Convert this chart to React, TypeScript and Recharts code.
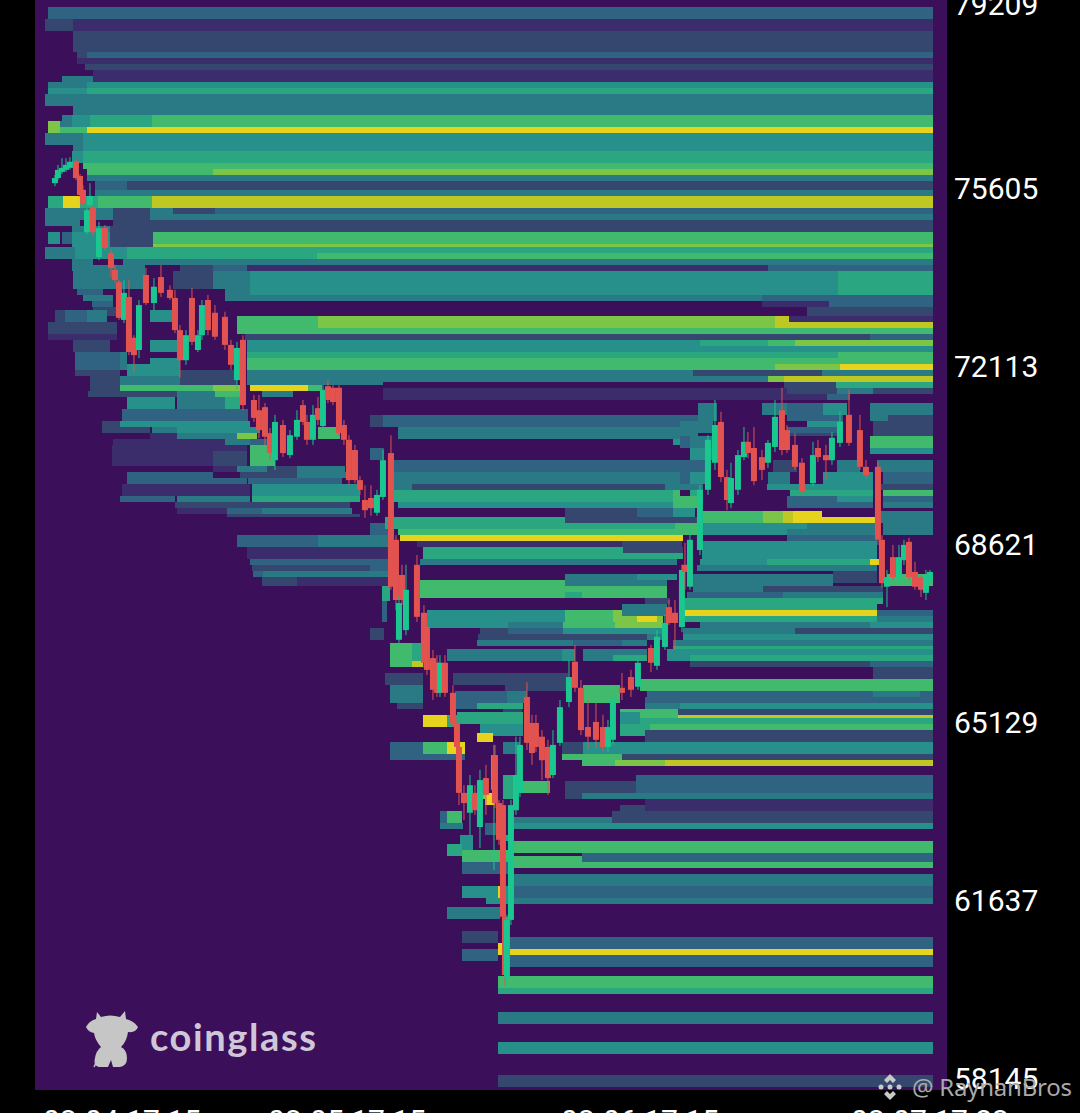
import { Bar, ComposedChart, ReferenceArea, XAxis, YAxis } from "recharts";

// time axis is in 5 minute steps, price rows are the heatmap buckets
const priceTicks = [79209, 75605, 72113, 68621, 65129, 61637, 58145];
const timeTicks = [87, 312, 605, 895];
const timeLabels = ["03-04 17:15", "03-05 17:15", "03-06 17:15", "03-07 17:23"];
const priceDomain = [57926, 79290];
const timeDomain = [0, 912];
const topBucketPrice = 79153;
const bucketSize = 58.8;

const levelColors = ["#3c0f5b", "#3b2c6c", "#36476f", "#306382", "#2a7a85", "#28908a", "#2aa680", "#41ba6e", "#7cc546", "#bfc822", "#e6d31d"];

// firstBucket, lastBucket, timeFrom, timeTo, level
const upperBands = [
  [0,4,13,898,3],[4,8,10,38,2],[4,8,38,898,1],[8,15,38,898,2],[15,17,42,52,2],[15,17,52,898,3],[17,19,42,898,1],[19,21,50,898,2],[21,25,58,898,1],[23,25,27,58,4],
  [25,27,13,52,4],[25,27,52,898,5],[27,29,13,52,5],[27,29,52,898,6],[29,33,10,898,4],[33,36,38,898,4],[36,38,27,37,4],[36,40,37,55,5],[36,40,55,117,6],[36,40,117,898,7],
  [38,40,13,25,8],[38,40,25,37,4],[40,42,13,25,8],[40,42,25,52,7],[40,42,52,898,10],[42,46,10,48,4],[42,46,48,898,5],[46,48,38,48,4],[46,48,48,898,5],[48,52,37,48,5],[48,52,48,898,6],
  [52,54,48,898,7],[54,56,52,178,7],[54,56,178,898,8],[56,58,52,898,4],[58,61,60,92,3],[58,61,92,898,2],[61,63,60,898,4],
  [63,67,13,28,6],[63,67,28,45,10],[63,67,45,63,6],[63,67,63,117,7],[63,67,117,898,9],
  [67,69,10,78,4],[67,69,78,115,2],[67,69,115,138,4],[67,69,138,180,2],[67,69,180,898,3],[69,71,10,78,4],[69,71,78,115,2],[69,71,115,898,4],[71,73,10,45,4],[71,73,78,898,2],[73,75,37,75,4],[73,75,75,898,2],
  [75,79,13,25,5],[75,79,27,37,3],[75,79,37,75,5],[75,79,75,118,2],[75,79,118,898,7],[79,80,37,75,5],[79,80,75,118,2],[79,80,118,898,8],
  [80,84,10,40,4],[80,84,40,92,5],[80,84,92,898,6],[82,84,282,898,7],[84,86,37,58,4],[84,86,88,898,4],
  [86,88,37,110,4],[86,88,145,178,2],[86,88,178,212,3],[86,88,212,733,1],[86,88,733,898,3],[88,94,38,110,4],[88,94,138,178,2],[88,94,178,215,4],[88,96,215,803,5],[88,96,803,898,6],
  [94,96,42,68,3],[94,96,190,215,4],[96,98,48,78,4],[96,98,190,727,4],[96,98,727,898,3],[98,100,57,78,3],[98,100,727,794,1],[98,100,794,898,3],[100,103,58,82,2],[100,103,772,898,2],
  [101,105,20,30,2],[101,105,30,52,3],[101,105,52,72,4],[101,105,115,142,5],[103,107,202,283,7],[103,107,283,740,8],[103,107,740,754,9],[103,105,754,898,1],[105,107,754,898,9],
  [105,109,13,82,2],[107,109,202,898,7],[109,111,13,82,1],[109,111,210,835,2],[109,111,835,898,3],[111,113,38,75,2],[111,115,115,142,5],[111,113,212,665,5],[111,113,665,733,6],[111,113,733,760,7],[111,113,760,898,8],
  [113,115,38,75,2],[113,115,212,898,5],[115,121,40,85,3],[115,121,85,92,4],[115,117,212,803,6],[115,117,803,898,7],[117,119,115,145,5],[117,119,212,898,7],
  [119,121,92,145,5],[119,121,212,740,7],[119,121,740,805,8],[119,121,805,898,10],
  [121,123,40,85,2],[121,123,92,145,5],[121,123,145,202,2],[121,123,212,658,4],[121,123,658,787,2],[121,123,787,898,4],
  [123,125,55,85,2],[123,125,85,145,4],[123,125,145,202,2],[123,125,212,733,4],[123,125,733,749,8],[123,125,749,898,9],
  [125,126,55,85,2],[125,126,85,145,4],[125,126,145,202,2],[125,126,212,348,4],[125,127,749,801,2],[125,127,801,898,6],
];

const leftBands = [
  [126,128,55,85,2],[126,128,85,178,7],[126,128,178,205,8],[126,128,215,273,10],[126,128,273,287,7],[128,130,53,142,2],[128,130,142,180,4],[128,130,180,205,7],[128,130,227,258,4],
  [127,131,348,752,1],[130,134,92,140,5],[130,134,142,190,4],[130,134,190,205,6],[134,138,87,213,3],[138,140,67,85,2],[138,140,85,215,5],
  [140,142,67,115,2],[140,142,117,142,4],[140,142,142,225,5],[140,144,283,305,7],[142,144,115,142,1],[142,144,142,202,4],[142,144,202,222,8],
  [144,146,78,190,1],[144,146,190,215,4],[144,146,215,235,3],[146,148,77,212,1],[146,148,215,235,7],[148,153,77,178,1],[148,153,178,212,2],[148,153,215,240,7],
  [153,155,178,202,1],[153,155,202,232,4],[153,155,232,262,2],[153,155,262,310,4],[155,157,92,178,3],[155,157,205,262,2],[155,157,262,315,4],[157,159,92,212,3],[157,159,213,307,3],
  [159,163,87,215,1],[159,163,217,325,5],[163,165,85,140,3],[163,165,142,215,4],[163,165,217,325,6],[165,167,140,315,2],[167,169,142,192,1],[167,169,192,227,3],[167,169,227,317,4],[169,170,192,325,2],
  [172,176,335,355,3],[176,180,202,283,3],[176,180,283,355,4],[180,184,212,355,1],[184,186,215,355,3],[186,188,217,335,2],[186,188,335,355,3],[188,190,218,228,3],[188,190,228,355,4],[190,193,227,262,2],[190,193,262,355,1],
  [136,140,335,349,2],[147,151,335,349,3],
];

const middleBands = [
  [136,140,348,638,3],[136,140,638,663,3],[140,144,363,638,4],[140,144,638,663,4],[144,146,638,655,5],[151,155,358,645,3],[155,159,358,645,4],[159,161,358,377,4],[159,161,377,630,2],[159,161,630,645,4],
  [161,165,358,638,6],[161,165,638,645,7],[165,167,363,638,5],[165,167,638,645,7],[167,170,530,602,2],[167,170,602,638,3],[167,170,638,660,5],[170,172,350,530,6],[170,172,530,663,2],
  [172,174,350,640,6],[172,174,640,663,7],[174,176,363,663,7],[176,178,365,648,10],[178,180,382,587,1],[178,180,587,647,2],[180,182,388,588,6],[180,182,588,648,2],[182,184,388,648,6],[184,186,385,642,4],
  [189,191,530,602,4],[189,191,602,642,5],[191,195,385,530,7],[191,193,530,632,4],[193,195,530,632,7],[195,197,385,530,7],[195,197,530,547,6],[195,197,547,632,7],[197,199,610,635,2],[199,201,587,632,4],
  [201,203,392,530,5],[201,203,530,578,7],[201,203,578,587,8],[201,203,587,632,4],[203,205,392,530,5],[203,205,530,578,7],[203,205,578,602,8],[203,205,602,622,10],[203,205,622,628,8],
  [205,207,392,473,5],[205,207,473,528,4],[205,207,528,580,7],[205,207,580,628,8],[207,209,445,473,2],[207,209,473,528,3],[207,209,528,628,5],[209,211,443,612,2],[209,211,612,628,4],
  [211,213,442,538,4],[211,213,538,587,3],[211,213,587,612,4],[214,218,412,527,4],[214,218,527,540,5],[214,218,548,578,4],[216,218,578,612,6],[214,216,578,612,4],[222,226,418,533,2],[226,228,470,533,2],[226,232,548,585,7],
  [228,232,420,472,3],[228,232,472,492,4],[232,234,442,488,6],[232,234,420,442,3],[234,236,468,487,2],[235,239,422,488,6],[236,240,388,412,10],[236,240,412,422,6],[239,243,445,488,5],[242,245,442,458,10],[245,249,468,485,4],
  [245,249,355,388,3],[245,249,388,412,7],[245,249,412,430,10],[249,251,355,430,3],[245,249,527,548,2],[245,249,548,587,5],[193,198,347,355,6],[198,205,347,352,3],[207,211,335,349,2],
  [212,220,355,377,7],[212,218,377,388,6],[218,220,377,388,9],[222,226,350,388,2],[226,232,355,388,4],[232,234,362,388,2],
];

const rightBands = [
  [125,127,348,749,0],[127,129,752,802,2],[127,129,802,838,4],[127,129,838,898,2],[129,131,752,792,1],[129,131,792,815,3],
  [132,136,663,682,4],[132,136,727,752,4],[132,136,752,788,3],[132,136,788,812,5],[132,136,835,898,4],[136,138,645,663,3],[136,138,663,682,4],[136,138,752,808,3],[136,138,835,853,4],[136,138,853,898,2],
  [138,140,645,678,4],[138,140,772,808,5],[138,140,838,898,2],[140,142,645,678,4],[140,142,752,805,3],[140,143,838,898,2],[142,143,752,802,2],[143,147,645,655,3],[143,147,655,678,4],[143,147,835,898,7],
  [147,149,655,678,5],[147,149,835,898,5],[149,151,655,678,5],[151,155,645,675,3],[151,155,738,762,2],[151,155,802,825,4],[151,155,842,898,4],[155,159,645,655,3],[155,159,655,675,5],[155,159,733,755,4],[155,159,788,838,5],[155,159,848,898,3],
  [159,161,645,668,4],[159,161,732,838,5],[159,161,846,898,2],[161,163,655,668,6],[161,163,755,838,6],[161,163,848,898,7],[163,165,645,668,7],[163,165,752,802,3],[163,165,802,838,5],[163,165,848,898,3],[165,167,645,665,7],[165,167,752,838,3],[165,167,848,898,4],
  [168,172,668,728,7],[168,172,728,748,8],[168,172,748,758,9],[168,170,758,787,10],[170,172,758,842,10],[168,172,842,898,4],[172,174,662,772,5],[172,174,772,842,4],[172,174,848,898,4],[174,176,667,752,5],[174,176,752,842,4],[174,176,848,898,4],
  [176,178,752,842,3],[178,184,667,842,5],[184,186,665,732,5],[184,186,732,835,6],[184,186,835,845,10],[186,188,662,842,4],[188,189,798,842,2],[189,193,655,798,4],[189,192,798,842,2],[189,193,852,898,7],
  [193,195,658,728,4],[193,195,728,848,2],[195,197,652,748,3],[195,197,748,848,4],[197,199,648,848,6],[199,201,648,842,6],[201,203,648,842,10],[201,203,842,898,3],[203,205,648,842,6],[203,205,842,898,4],
  [205,207,665,835,4],[205,207,835,898,5],[207,209,648,760,4],[207,209,760,898,2],[209,211,648,898,5],[211,213,638,898,4],[213,214,638,898,6],[214,216,632,898,5],[216,218,632,655,5],[216,218,655,898,6],
  [218,220,655,835,2],[218,220,835,898,3],[220,224,838,898,2],[224,228,605,898,7],[228,230,612,838,3],[228,230,838,885,4],[228,230,885,898,3],[230,232,610,898,3],[232,234,610,645,4],[232,234,645,898,5],
  [234,236,585,643,7],[234,236,643,898,2],[236,237,585,643,7],[236,237,643,898,9],[235,239,585,605,5],[237,239,605,898,6],[239,241,615,898,7],[239,243,585,615,6],[241,245,610,898,2],[245,249,587,898,5],[249,251,587,898,2],
];

const lowerBands = [
  [249,251,527,587,7],[251,253,547,580,7],[251,253,580,630,8],[251,253,630,898,9],[256,258,601,898,3],[258,262,530,601,2],[258,262,601,898,3],[262,264,530,547,2],[262,264,547,898,4],[264,268,610,898,1],
  [266,268,585,610,2],[268,270,577,898,2],[270,272,478,577,4],[270,272,577,898,2],[272,274,478,898,5],[278,282,478,898,7],[282,285,547,898,3],[283,285,478,547,7],[285,287,478,898,7],
  [289,293,478,898,4],[293,297,478,898,3],[297,299,478,898,4],[310,314,475,898,3],[314,316,475,898,10],[316,320,475,898,3],[323,327,463,898,7],[327,329,463,898,6],[335,339,463,898,4],[345,349,463,898,5],[356,360,463,898,2],
  [268,272,405,412,3],[268,272,412,427,7],[272,274,405,428,4],[262,266,450,460,10],[262,264,440,450,8],[258,262,485,515,7],[256,264,468,482,6],[272,276,450,462,3],[276,281,425,438,5],
  [281,285,427,473,7],[279,283,412,427,6],[285,289,427,473,3],[276,278,465,473,6],[293,297,427,473,5],[297,299,451,473,5],[293,297,463,467,10],[300,304,412,465,4],[308,312,427,463,2],[314,318,427,463,3],[312,316,463,467,10],
];

// time, open, high, low, close
const firstDayCandles = [
  [20,75700,75860,75640,75800],[23,75800,76060,75760,75960],[27,75920,76190,75880,76000],[31,75960,76190,75920,76060],[35,76000,76210,75960,76120],[41,76130,76150,75760,75800],[45,75840,75880,75430,75470],[48,75570,75660,75250,75290],
  [52,74740,75210,74700,75170],[55,75270,75700,75230,75450],[58,75230,75270,74680,74740],[64,74250,74940,74190,74820],[70,74820,74880,74390,74430],[76,74330,74390,73860,74040],[80,74000,74100,73760,73800],[84,73760,73800,73020,73060],
  [89,73020,73800,72960,73550],[94,73470,73800,72330,72390],[99,72670,72720,72000,72330],[104,72430,73410,72270,73310],[111,73900,74040,73310,73350],[119,73350,73840,73210,73670],[126,73860,74100,73470,73550],[135,73610,73700,73410,73450],
  [140,73450,73610,72760,72820],[145,72820,72920,71880,72230],[151,72230,72820,72140,72720],[157,73450,73650,72530,72590],[163,72430,72820,72390,72720],[167,72720,73410,72630,73310],[173,73410,73510,72720,72820],[180,73160,73310,72630,72690],
  [190,73080,73180,72430,72530],[196,72530,72630,72040,72140],[202,71840,72590,71650,72470],[208,72630,72720,71250,71350],[219,71450,71550,71020,71100],[224,71250,71550,70700,70860],[230,71310,71390,70570,70730],[235,70800,70900,70270,70410],
  [240,70270,71160,70080,71020],[248,70960,71060,70330,70410],[255,70370,70860,70310,70760],[262,70730,71250,70670,71060],[268,71350,71450,70960,71020],[272,71020,71160,70570,70670],[278,70670,71350,70570,71160],[283,71290,71510,70960,71060],
  [288,70940,71740,70860,71650],[293,71720,71840,71390,71450],[298,71690,71740,71350,71410],[304,71690,71740,70740,70800],[309,70960,71060,70570,70670],[314,70670,70760,69780,69880],[320,70470,70570,69820,69880],[325,69880,69960,69590,69690],
  [330,69490,69780,69140,69290],[336,69530,69780,69180,69330],[342,69240,69690,69180,69590],[348,69550,70470,69490,70270],
];

const dropCandles = [
  [356,70410,70760,67730,67790],[361,68710,68800,67330,67530],[364,66750,67630,66690,67470],[367,68020,68220,67430,67530],[371,66940,68220,66840,67730],[382,68220,68410,67100,67200],[389,67280,67430,66200,66300],[392,67000,67140,66060,66160],
  [398,66390,66550,65570,65770],[402,66300,66450,65630,65710],[405,65710,66450,65630,66300],[410,66300,66450,65630,65710],[418,65710,65860,65040,65120],[422,65120,65220,64590,64650],[424,64650,64750,63510,63750],[429,63750,63900,63220,63550],
  [435,63360,64100,62920,63900],[440,63750,63900,63320,63410],[445,63080,64200,62670,64000],[451,64040,64300,63320,63710],[459,63810,64690,62240,64490],[460,64490,64690,63450,63550],[464,63550,63610,62730,62830],[468,63510,63610,61060,61320],
  [470,61320,61450,59980,60180],[472,60140,61360,59980,61260],[476,61260,63610,61160,63510],[481,63410,64850,63320,64100],[485,63750,64850,63670,64690],
];

const reboundCandles = [
  [492,65630,65920,64590,64730],[497,65120,65280,64300,64530],[501,65120,65280,64550,64650],[507,64850,64980,64000,64390],[513,64650,64790,63710,64040],[518,64100,64980,64040,64690],[525,64730,65570,64670,65430],[534,65530,66350,65430,66020],
  [540,66320,66650,65730,65810],[546,65810,65960,64880,64980],[553,65040,65570,64590,64850],[561,65140,65510,64630,64790],[568,65040,65280,64550,64650],[573,64650,65180,64550,65040],[578,64790,65670,64690,65570],[587,65810,66100,65570,65710],
  [596,66020,66160,65630,65770],[603,65830,66350,65770,66300],[616,66590,66650,66120,66300],[622,66240,66940,66160,66810],[630,66610,67240,66550,67080],[634,67390,67530,67040,67080],[640,67280,67530,66550,67080],[647,67000,68220,66900,68120],
  [650,68220,68650,67730,68080],[655,67790,68900,67730,68710],[665,68510,69780,68410,69690],[673,69690,70760,69590,70670],[680,70220,71450,70080,70960],[686,71020,71220,69840,69940],[692,69940,70080,69290,69490],[696,69430,70220,69330,69920],
  [703,69690,70470,69590,70370],[709,70330,70920,70270,70630],[713,70630,70820,70310,70410],[719,70510,70920,69780,69860],[727,70330,70470,69880,70080],[733,70220,70670,70120,70610],[740,70530,71450,70430,71120],[747,71250,71690,70370,70470],
  [752,70860,70960,70410,70470],[760,70570,70800,70080,70140],[767,70220,70310,69610,69650],[778,69820,70630,69750,70370],[783,70510,70670,70240,70330],[791,70370,70570,69880,70270],[797,70270,70820,70180,70710],[805,70610,71220,70530,71020],
  [814,71160,71650,70550,70610],[825,70860,71160,70080,70140],[831,70140,70270,69920,69980],[843,70140,70240,68610,68710],[847,68710,68800,67770,67860],[852,67790,68120,67390,67980],[858,68370,68610,67920,67980],[864,67960,68610,67880,68370],
  [869,68310,68710,68220,68610],[874,68670,68750,67920,67980],[880,68080,68280,67730,67790],[886,67980,68020,67590,67730],[891,67670,68120,67530,68020],[895,67920,68120,67880,68080],
];

const heatBands = [...upperBands, ...leftBands, ...middleBands, ...rightBands, ...lowerBands];
const candleData = [...firstDayCandles, ...dropCandles, ...reboundCandles].map(([time, open, high, low, close]) => ({
  time, open, high, low, close, range: [low, high],
}));

const BandRect = (props: any) => (
  <rect x={props.x} y={props.y} width={props.width} height={props.height} fill={props.fill} shapeRendering="crispEdges" />
);

const bodyWidth = 6;

const Candle = (props: any) => {
  const { x, y, width, height, payload } = props;
  const mid = x + width / 2;
  const perPrice = height / (payload.high - payload.low);
  const bodyTop = y + (payload.high - Math.max(payload.open, payload.close)) * perPrice;
  const bodyHeight = Math.max(Math.abs(payload.open - payload.close) * perPrice, 1);
  const color = payload.close >= payload.open ? "#19c78f" : "#e25350";
  return (
    <g>
      <rect x={mid - 0.75} y={y} width={1.5} height={height} fill={color} opacity={0.65} />
      <rect x={mid - bodyWidth / 2} y={bodyTop} width={bodyWidth} height={bodyHeight} fill={color} />
    </g>
  );
};

const CoinglassMark = () => (
  <svg width={1080} height={1113} style={{ position: "absolute", left: 0, top: 0, pointerEvents: "none" }}>
    <path
      d="M97 1012 L101 1017 Q110 1014 120 1017 L125 1011 L126 1019 Q134 1021 138 1027 Q136 1033 128 1032 Q127 1041 121 1047 Q127 1050 127 1058 Q127 1066 120 1067 L113 1067 L111 1060 L108 1067 L99 1067 Q93 1066 95 1058 Q96 1051 101 1047 Q95 1040 94 1033 Q88 1032 86 1027 Q89 1021 96 1019 Z"
      fill="#c6c6c6"
    />
    <path d="M96 1063 L94 1067" stroke="#c6c6c6" strokeWidth={1.5} />
    <text x={150} y={1051} fill="#cfc6d8" fontFamily="Lato" fontWeight={700} fontSize={38} textLength={166}>coinglass</text>
    <g fill="#c9c9c9">
      <path d="M890 1074 L896 1080 L893 1083 L890 1080 L887 1083 L884 1080 Z" />
      <path d="M890 1100 L896 1094 L893 1091 L890 1094 L887 1091 L884 1094 Z" />
      <circle cx={890} cy={1087} r={2.5} />
      <circle cx={881} cy={1087} r={2.5} />
      <circle cx={899} cy={1087} r={2.5} />
    </g>
    <text x={912} y={1096} fill="#a9a9a9" fontFamily="Noto Sans" fontSize={24} textLength={160}>@ RaynanBros</text>
  </svg>
);

export default function App() {
  const priceOf = (bucket: number) => topBucketPrice - bucket * bucketSize;
  return (
    <div style={{ position: "absolute", left: 0, top: 0, width: 1080, height: 1113, background: "#000", overflow: "hidden" }}>
      <ComposedChart width={1080} height={1113} data={candleData} margin={{ top: 0, right: 0, bottom: 0, left: 35 }}>
        <XAxis
          dataKey="time"
          type="number"
          domain={timeDomain}
          ticks={timeTicks}
          interval={0}
          height={23}
          axisLine={false}
          tickLine={false}
          tickMargin={14}
          tickFormatter={(v) => timeLabels[timeTicks.indexOf(v)]}
          tick={{ fill: "#fff", fontSize: 30, fontFamily: "Roboto" }}
        />
        <YAxis
          orientation="right"
          type="number"
          domain={priceDomain}
          ticks={priceTicks}
          interval={0}
          width={133}
          axisLine={false}
          tickLine={false}
          tickMargin={1}
          allowDataOverflow
          tick={{ fill: "#fff", fontSize: 30, fontFamily: "Roboto" }}
        />
        <ReferenceArea x1={timeDomain[0]} x2={timeDomain[1]} y1={priceDomain[0]} y2={priceDomain[1]} fill={levelColors[0]} fillOpacity={1} stroke="none" shape={BandRect} />
        {heatBands.map(([b0, b1, t0, t1, level], i) => (
          <ReferenceArea key={i} x1={t0} x2={t1} y1={priceOf(b1)} y2={priceOf(b0)} fill={levelColors[level]} fillOpacity={1} stroke="none" shape={BandRect} />
        ))}
        <Bar dataKey="range" barSize={5} shape={Candle} isAnimationActive={false} />
      </ComposedChart>
      <CoinglassMark />
    </div>
  );
}
